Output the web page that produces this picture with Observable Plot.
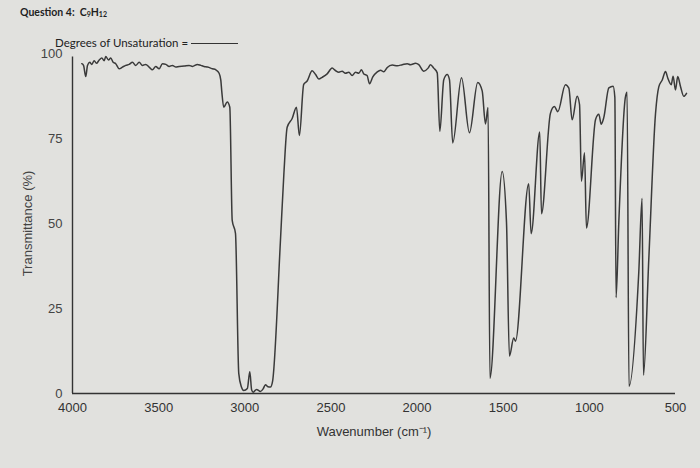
<!DOCTYPE html>
<html>
<head>
<meta charset="utf-8">
<script src="https://cdn.jsdelivr.net/npm/d3@7"></script>
<script src="https://cdn.jsdelivr.net/npm/@observablehq/plot@0.6"></script>
<style>
  body { margin: 0; background: #e1e1de; }
  #wrap { position: relative; width: 700px; height: 468px; overflow: hidden; background: #e1e1de; }
  #chart { position: absolute; left: 0; top: 0; }
  .q { position: absolute; left: 20px; top: 6px; font: bold 10.5px Lato, "Open Sans", sans-serif; color: #1e1e1e; }
  .q sub { font-size: 7px; vertical-align: -1px; }
  .d { position: absolute; left: 55px; top: 36px; font: 11.5px Lato, "Open Sans", sans-serif; color: #222; }
  .blank { display: inline-block; width: 47px; border-bottom: 1px solid #333; margin-left: 3px; transform: translateY(-3px); }
</style>
</head>
<body>
<div id="wrap">
  <div id="chart"></div>
  <div class="q">Question 4:&nbsp; C<sub>9</sub>H<sub>12</sub></div>
  <div class="d">Degrees of Unsaturation =<span class="blank"></span></div>
</div>
<script>
// Wavenumber (cm^-1) and transmittance (%)
const wavenumber = [
  3946, 3936, 3923, 3913, 3900, 3888, 3874, 3861, 3845, 3830, 3816, 3807, 3791, 3778, 3764, 3749,
  3729, 3710, 3691, 3671, 3652, 3633, 3613, 3594, 3575, 3555, 3536, 3517, 3497, 3478, 3458, 3439,
  3420, 3400, 3381, 3352, 3323, 3304, 3275, 3255, 3236, 3216, 3187, 3168, 3149, 3139, 3134, 3122,
  3102, 3087, 3073, 3054, 3035, 3020, 3006, 2985, 2971, 2960, 2951, 2932, 2909, 2893, 2880, 2866,
  2851, 2839, 2793, 2773, 2754, 2725, 2700, 2683, 2658, 2638, 2609, 2590, 2570, 2551, 2522, 2493,
  2474, 2454, 2435, 2416, 2396, 2377, 2357, 2338, 2323, 2309, 2290, 2276, 2257, 2231, 2212, 2193,
  2173, 2144, 2115, 2086, 2057, 2038, 2009, 1990, 1961, 1936, 1922, 1903, 1883, 1868, 1845, 1825,
  1812, 1793, 1742, 1696, 1648, 1622, 1603, 1588, 1577, 1506, 1481, 1464, 1439, 1429, 1352, 1338,
  1288, 1278, 1226, 1203, 1183, 1139, 1119, 1100, 1071, 1057, 1046, 1028, 1017, 964, 945, 931,
  916, 887, 862, 852, 845, 829, 791, 781, 770, 713, 694, 686, 655, 616, 597, 577,
  558, 545, 525, 514, 500, 487, 471, 452, 436
];
const transmittance = [
  97.0, 96.5, 93.2, 96.5, 97.4, 96.8, 97.9, 97.1, 98.1, 98.7, 97.9, 99.1, 98.1, 98.7, 97.4, 97.0,
  95.5, 96.0, 96.5, 96.8, 97.4, 96.5, 97.4, 96.5, 96.8, 96.0, 95.2, 96.2, 95.5, 97.0, 96.8, 96.2,
  96.5, 96.0, 96.2, 96.3, 96.5, 96.2, 96.8, 96.5, 96.2, 96.0, 95.5, 95.2, 94.2, 92.1, 89.1, 84.2,
  85.7, 84.2, 50.9, 47.1, 5.9, 2.0, 0.9, 1.5, 6.4, 1.0, 0.4, 1.2, 0.6, 1.4, 2.6, 2.0,
  1.9, 3.5, 45.0, 64.7, 78.3, 80.9, 84.2, 75.9, 90.9, 91.9, 94.9, 93.9, 92.5, 93.0, 94.0, 95.7,
  95.0, 94.5, 94.8, 94.2, 94.5, 93.5, 94.5, 94.2, 95.2, 94.0, 93.5, 91.1, 93.1, 94.6, 95.1, 94.6,
  95.9, 96.6, 96.4, 96.7, 97.0, 96.7, 97.1, 96.7, 94.8, 95.7, 96.7, 95.7, 94.3, 77.1, 92.3, 93.8,
  92.3, 73.7, 92.9, 76.7, 91.5, 89.0, 79.3, 84.1, 4.5, 65.3, 50.4, 11.0, 16.3, 15.4, 61.7, 47.0,
  76.9, 52.9, 82.4, 84.4, 82.9, 90.8, 89.8, 80.5, 87.4, 85.0, 62.4, 70.8, 48.7, 80.6, 82.1, 79.2,
  81.2, 89.9, 90.4, 87.1, 28.2, 50.4, 87.1, 88.6, 2.1, 35.8, 57.4, 5.4, 39.5, 82.3, 90.2, 92.2,
  94.7, 92.8, 90.8, 93.3, 89.3, 93.2, 90.3, 87.4, 88.3
];
const xTicks = [4000, 3500, 3000, 2500, 2000, 1500, 1000, 500];
const yTicks = [0, 25, 50, 75, 100];
const xDomain = [4000, 500];
const yDomain = [0, 100];

const spectrum = wavenumber.map((w, i) => ({w, t: transmittance[i]}));

const plot = Plot.plot({
  width: 700,
  height: 468,
  marginLeft: 72,
  marginRight: 25,
  marginTop: 53,
  marginBottom: 75,
  style: {background: "transparent", fontFamily: "'Liberation Sans', Arial, sans-serif", fontSize: "13px", color: "#3a3a3a"},
  x: {domain: xDomain},
  y: {domain: yDomain},
  marks: [
    Plot.axisX({ticks: xTicks, tickSize: 0, tickPadding: 9, tickFormat: d => String(d),
      label: "Wavenumber (cm⁻¹)", labelAnchor: "center", labelOffset: 42, labelArrow: "none",
      fontSize: 13, fill: "#333"}),
    Plot.axisY({ticks: yTicks, tickSize: 0, tickPadding: 10, tickFormat: d => String(d),
      label: "Transmittance (%)", labelAnchor: "center", labelOffset: 50, labelArrow: "none",
      fontSize: 13, fill: "#444"}),
    Plot.ruleY([0], {stroke: "#333", strokeWidth: 1.4}),
    Plot.ruleX([4000], {stroke: "#333", strokeWidth: 1.4, y1: 0, y2: 99}),
    Plot.line(spectrum, {x: "w", y: "t", stroke: "#3a3a3a", strokeWidth: 1.5, curve: "monotone-x"})
  ]
});
document.getElementById("chart").appendChild(plot);
</script>
</body>
</html>
